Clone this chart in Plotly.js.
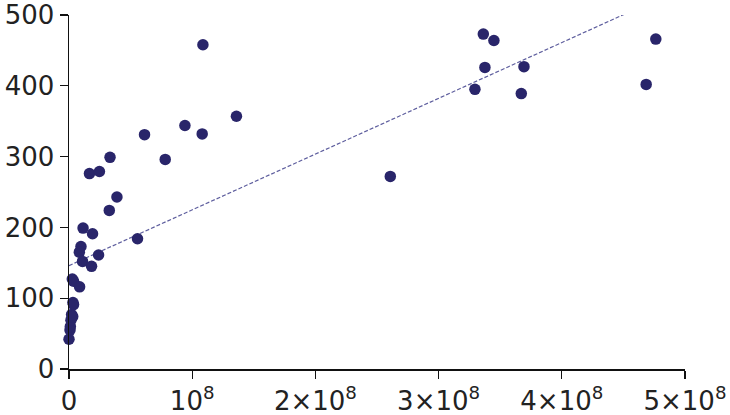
<!DOCTYPE html>
<html>
<head>
<meta charset="utf-8">
<script src="https://cdn.plot.ly/plotly-3.0.1.min.js"></script>
<style>html,body{margin:0;padding:0;background:#fff;}#chart{width:730px;height:415px;}</style>
</head>
<body>
<div id="chart"></div>
<script>
const pointsX = [0, 0.008e8, 0.011e8, 0.016e8, 0.021e8, 0.03e8, 0.032e8, 0.037e8, 0.027e8, 0.037e8, 0.086e8,
  0.097e8, 0.084e8, 0.110e8, 0.114e8, 0.183e8, 0.191e8, 0.240e8, 0.166e8, 0.247e8, 0.333e8, 0.327e8, 0.389e8,
  0.556e8, 0.613e8, 0.781e8, 0.941e8, 1.081e8, 1.087e8, 1.359e8, 2.608e8, 3.295e8, 3.363e8, 3.376e8, 3.449e8,
  3.671e8, 3.693e8, 4.685e8, 4.763e8];
const pointsY = [42, 55, 60, 69, 77, 74, 94, 91, 127, 124, 116,
  173, 165, 152, 199, 145, 191, 161, 276, 279, 299, 224, 243,
  184, 331, 296, 344, 332, 458, 357, 272, 395, 473, 426, 464,
  389, 427, 402, 466];
const trendX = [0, 4.52e8];
const trendY = [146, 502];
const xTickVals = [0, 1e8, 2e8, 3e8, 4e8, 5e8];
const xTickText = ['0', '10<sup>8</sup>', '2×10<sup>8</sup>', '3×10<sup>8</sup>', '4×10<sup>8</sup>', '5×10<sup>8</sup>'];
const yTickVals = [0, 100, 200, 300, 400, 500];

const traces = [
  {x: trendX, y: trendY, mode: 'lines', type: 'scatter',
   line: {color: '#5e5e9e', width: 1.2, dash: '4px,2px'}, hoverinfo: 'skip'},
  {x: pointsX, y: pointsY, mode: 'markers', type: 'scatter', cliponaxis: false,
   marker: {color: '#29256a', size: 11.5}}
];
const axisCommon = {
  showgrid: false, zeroline: false, showline: true, linecolor: '#111', linewidth: 1.5,
  ticks: 'outside', ticklen: 8, tickwidth: 1.2, tickcolor: '#111',
  tickfont: {family: 'DejaVu Sans', size: 26, color: '#222'}
};
const layout = {
  width: 730, height: 415,
  margin: {l: 69, r: 45, t: 15, b: 46, pad: 0},
  paper_bgcolor: '#fff', plot_bgcolor: '#fff',
  showlegend: false,
  xaxis: Object.assign({}, axisCommon, {range: [0, 5e8], tickmode: 'array', tickvals: xTickVals, ticktext: xTickText}),
  yaxis: Object.assign({}, axisCommon, {range: [0, 500], tickmode: 'array', tickvals: yTickVals, ticktext: yTickVals.map(String)})
};
Plotly.newPlot('chart', traces, layout, {displayModeBar: false, staticPlot: true});
</script>
</body>
</html>
